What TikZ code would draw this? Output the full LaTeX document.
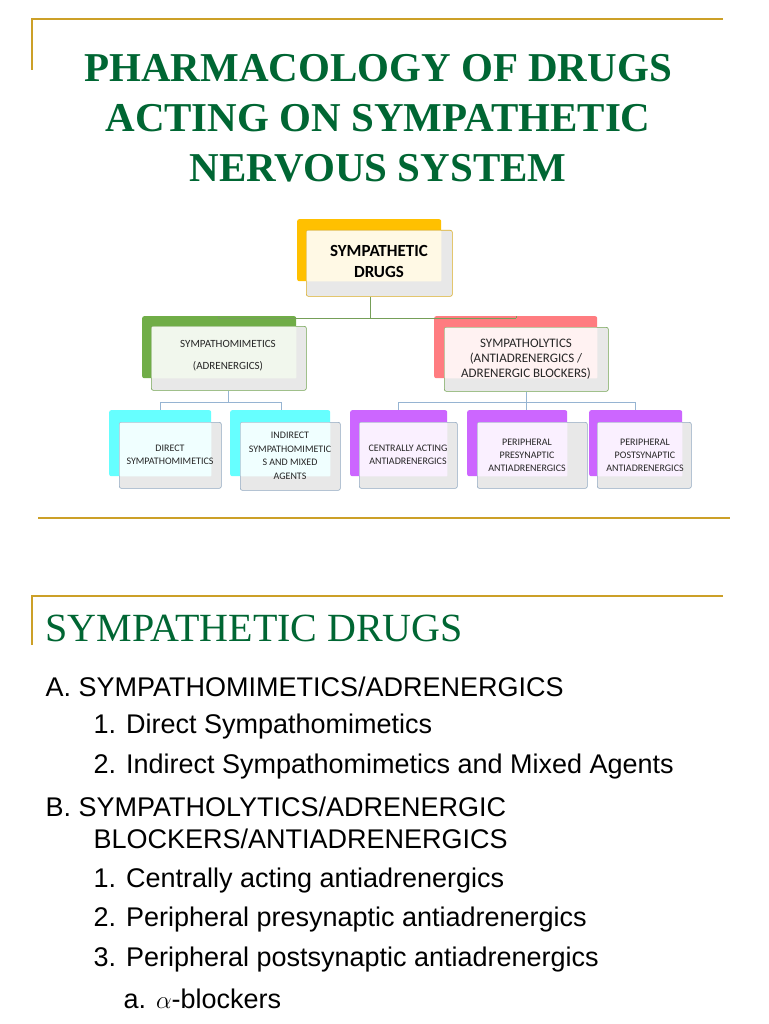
\documentclass[tikz,border=0pt]{standalone}
\usepackage{fontspec}
\setmainfont{Liberation Serif}
\newfontfamily\calfam{Carlito}
\newfontfamily\arialfam{Liberation Sans}
\definecolor{gold}{RGB}{204,160,40}
\definecolor{tgreen}{RGB}{0,102,51}
\definecolor{cyel}{RGB}{255,192,0}
\definecolor{cgrn}{RGB}{112,173,71}
\definecolor{cred}{RGB}{255,124,128}
\definecolor{ccya}{RGB}{102,255,255}
\definecolor{cpur}{RGB}{204,102,255}
\definecolor{lnk}{RGB}{150,180,210}
\tikzset{
 back/.style={draw=none,rounded corners=2pt,anchor=north west,inner sep=0},
 front/.style={draw=#1,rounded corners=2pt,anchor=north west,fill=gray!18,inner sep=0,line width=0.6pt},
 lbl/.style={align=center,font=\calfam\fontsize{10}{13}\selectfont,text=black!85},
 conn/.style={draw=#1,line width=0.7pt},
 body/.style={anchor=west,font=\arialfam\fontsize{27}{30}\selectfont}
}
\newcommand\dbox[9]{%
 \node[back,fill=\bc,minimum width=#4pt,minimum height=#5pt] (b#1) at (#2,#3) {};
 \node[front=\fc,minimum width=#8pt,minimum height=#9pt] (#1) at (#6,#7) {};
 \fill[\bc!10,rounded corners=1pt] ([shift={(0.6pt,-0.6pt)}]#1.north west) rectangle (b#1.south east);
}
\begin{document}
\begin{tikzpicture}[x=1pt,y=-1pt]
\useasboundingbox (0,0) rectangle (768,1024);
\fill[white] (0,0) rectangle (768,1024);
\draw[gold,line width=1.3pt] (32,70) -- (32,19) -- (723,19);
\draw[gold,line width=1.3pt] (38,518) -- (730,518);
\draw[gold,line width=1.3pt] (32,645) -- (32,596) -- (723,596);
\node[text=tgreen,font=\bfseries\fontsize{41}{50}\selectfont,align=center] (title) at (378,118) {PHARMACOLOGY OF DRUGS\\ACTING ON SYMPATHETIC\\NERVOUS SYSTEM};
\def\fc{cyel!70!gray}\def\bc{cyel}
\dbox{top}{297}{219}{144}{62}{306}{230}{146}{66}
\node[font=\calfam\bfseries\fontsize{17}{21}\selectfont,align=center] at (379,261) {SYMPATHETIC\\DRUGS};
\def\fc{cgrn!80!gray}\def\bc{cgrn}
\dbox{mim}{142}{316}{154}{62}{151}{326}{155}{64}
\node[lbl,font=\calfam\fontsize{11}{22}\selectfont] at (228,356) {SYMPATHOMIMETICS\\(ADRENERGICS)};
\def\fc{cgrn!80!gray}\def\bc{cred}
\dbox{lyt}{434}{316}{163}{62}{444}{327}{164}{64}
\node[lbl,font=\calfam\fontsize{13}{15}\selectfont] at (526,359) {SYMPATHOLYTICS\\(ANTIADRENERGICS /\\ADRENERGIC BLOCKERS)};
\def\fc{lnk!80!gray}\def\bc{ccya}
\dbox{dir}{109}{410}{102}{66}{119}{422}{102}{66}
\node[lbl] at (170,455) {DIRECT\\SYMPATHOMIMETICS};
\dbox{ind}{230}{410}{100}{66}{240}{422}{100}{68}
\node[lbl,font=\calfam\fontsize{10}{13.5}\selectfont] at (290,456) {INDIRECT\\SYMPATHOMIMETIC\\S AND MIXED\\AGENTS};
\def\bc{cpur}
\dbox{cen}{350}{410}{97}{66}{359}{422}{98}{66}
\node[lbl] at (408,455) {CENTRALLY ACTING\\ANTIADRENERGICS};
\dbox{pre}{467}{410}{100}{66}{477}{422}{110}{66}
\node[lbl] at (527,455) {PERIPHERAL\\PRESYNAPTIC\\ANTIADRENERGICS};
\dbox{pos}{589}{410}{93}{66}{597}{422}{94}{66}
\node[lbl] at (645,455) {PERIPHERAL\\POSTSYNAPTIC\\ANTIADRENERGICS};
\draw[conn=cgrn!70!gray] (top.south) ++(-9,0) -- ++(0,22) coordinate (j1);
\draw[conn=cgrn!70!gray] (218,318) -- (516,318);
\draw[conn=cgrn!70!gray] (218,318) -- (218,316);
\draw[conn=cgrn!70!gray] (516,318) -- (516,316);
\draw[conn=lnk] (mim.south) -- ++(0,12) coordinate (j2);
\draw[conn=lnk] (160,402) -- (281,402);
\draw[conn=lnk] (160,402) -- (160,410);
\draw[conn=lnk] (281,402) -- (281,410);
\draw[conn=lnk] (lyt.south) -- ++(0,11) coordinate (j3);
\draw[conn=lnk] (398,402) -- (635,402);
\draw[conn=lnk] (398,402) -- (398,410);
\draw[conn=lnk] (526,402) -- (526,410);
\draw[conn=lnk] (635,402) -- (635,410);
\node[anchor=west,text=tgreen,font=\fontsize{40}{44}\selectfont] (h2) at (42,628) {SYMPATHETIC DRUGS};
\node[body] (l1) at (42,687) {A. SYMPATHOMIMETICS/ADRENERGICS};
\node[body] (l2) at (90,727) {1. Direct Sympathomimetics};
\node[body] (l3) at (90,767) {2. Indirect Sympathomimetics and Mixed Agents};
\node[body] (l4) at (42,807) {B. SYMPATHOLYTICS/ADRENERGIC};
\node[body] (l5) at (90,839) {BLOCKERS/ANTIADRENERGICS};
\node[body] (l6) at (90,881) {1. Centrally acting antiadrenergics};
\node[body] (l7) at (90,920) {2. Peripheral presynaptic antiadrenergics};
\node[body] (l8) at (90,960) {3. Peripheral postsynaptic antiadrenergics};
\node[body] (l9) at (120,999) {a. $\alpha$-blockers};
\end{tikzpicture}
\end{document}
